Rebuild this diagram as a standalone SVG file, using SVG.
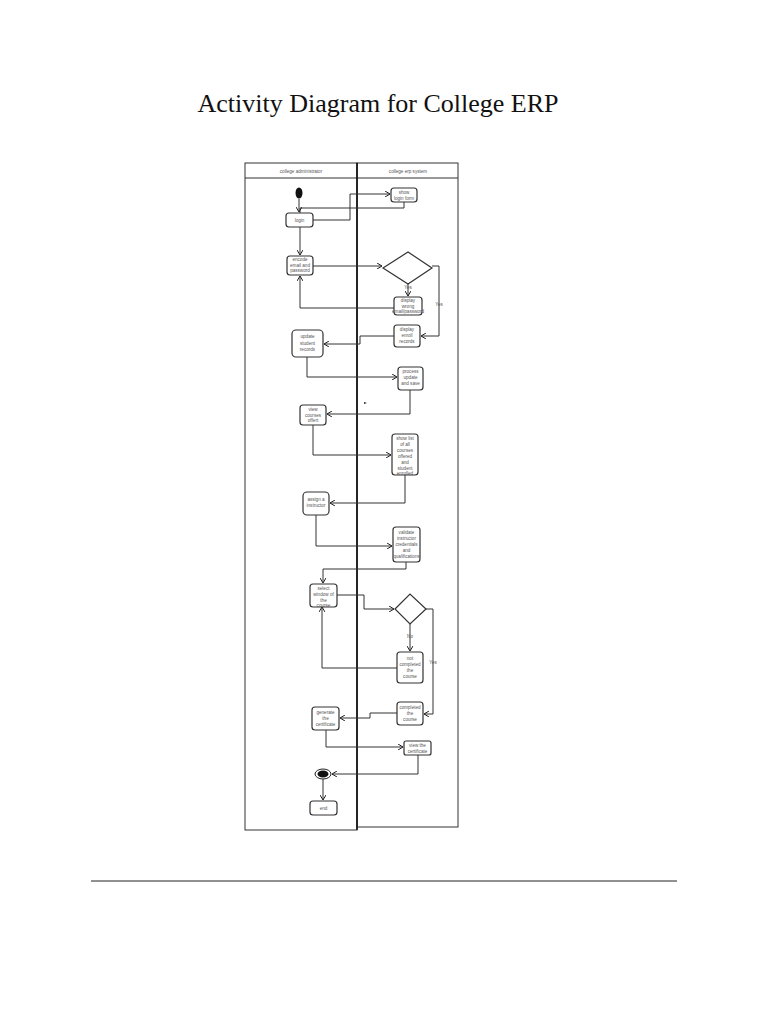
<svg xmlns="http://www.w3.org/2000/svg" width="768" height="1024" viewBox="0 0 768 1024">
<defs>
<marker id="a" markerWidth="6" markerHeight="6" refX="5" refY="3" orient="auto"><path d="M0,0 L5,3 L0,6" fill="none" stroke="#222" stroke-width="1"/></marker>
<style>
.n{fill:#fff;stroke:#333;stroke-width:1.2}
.t{font-family:"Liberation Sans",Arial,sans-serif;font-size:4.6px;fill:#555;text-anchor:middle}
.c path{fill:none;stroke:#333;stroke-width:1;marker-end:url(#a)}
.l{fill:none;stroke:#333;stroke-width:1}
</style>
</defs>
<rect width="768" height="1024" fill="#fff"/>
<text x="378" y="112" font-family="Liberation Serif,serif" font-size="26" text-anchor="middle" fill="#111">Activity Diagram for College ERP</text>
<line x1="91" y1="881" x2="677" y2="881" stroke="#222" stroke-width="1"/>
<g id="lanes">
<rect x="245" y="163" width="112" height="667" class="l"/>
<rect x="357" y="163" width="101" height="664" class="l"/>
<line x1="245" y1="178" x2="458" y2="178" stroke="#333" stroke-width="1.2"/>
<line x1="357" y1="163" x2="357" y2="830" stroke="#111" stroke-width="1.5"/>
<text class="t" x="301" y="173">college administrator</text>
<text class="t" x="408" y="173">college erp system</text>
</g>
<g class="c" id="connectors">
<path d="M299,199 V212"/>
<path d="M313,220 H350 V194 H390"/>
<path d="M404,202 V208 H300 V255"/>
<path d="M313,266 H382"/>
<path d="M408,284 V296"/>
<path d="M394,308 H300 V276"/>
<path d="M432,266 H439 V336 H421"/>
<path d="M394,336 H360 V344 H324"/>
<path d="M307,357 V377 H397"/>
<path d="M410,390 V414 H327"/>
<path d="M313,425 V455 H391"/>
<path d="M405,475 V503 H330"/>
<path d="M316,515 V546 H392"/>
<path d="M406,562 V569 H323 V583"/>
<path d="M337,595 H364 V609 H394"/>
<path d="M410,624 V651"/>
<path d="M397,668 H322 V607"/>
<path d="M426,609 H433 V714 H424"/>
<path d="M397,713 H370 V718 H340"/>
<path d="M326,730 V747 H403"/>
<path d="M418,755 V774 H332"/>
<path d="M323,779 V800"/>
</g>
<path d="M364,402 l3,1 -3,1z" fill="#222"/>
<text class="t" x="408" y="289">Yes</text>
<text class="t" x="439" y="306">Yes</text>
<text class="t" x="410" y="638">No</text>
<text class="t" x="433" y="664">Yes</text>
<g id="start"><ellipse cx="299" cy="193" rx="3.5" ry="5.5" fill="#111"/></g>
<g id="login"><rect class="n" x="286" y="213" width="27" height="14" rx="3"/><text class="t" x="299.5" y="221.5">login</text></g>
<g id="show"><rect class="n" x="391" y="188" width="26" height="14" rx="3"/><text class="t" x="404" y="194">show</text><text class="t" x="404" y="199.5">login form</text></g>
<g id="enter"><rect class="n" x="287" y="256" width="26" height="19" rx="3"/><text class="t" x="300" y="261">encode</text><text class="t" x="300" y="266.5">email and</text><text class="t" x="300" y="272">password</text></g>
<g id="d1"><polygon class="n" points="383,268 408,252 432,268 408,284"/></g>
<g id="wrong"><rect class="n" x="394" y="297" width="28" height="18" rx="3"/><text class="t" x="408" y="302">display</text><text class="t" x="408" y="307.5">wrong</text><text class="t" x="408" y="313">email/password</text></g>
<g id="enroll"><rect class="n" x="394" y="325" width="26" height="22" rx="3"/><text class="t" x="407" y="331">display</text><text class="t" x="407" y="337">enroll</text><text class="t" x="407" y="343">records</text></g>
<g id="update"><rect class="n" x="292" y="330" width="31" height="27" rx="4"/><text class="t" x="307.5" y="338">update</text><text class="t" x="307.5" y="344.5">student</text><text class="t" x="307.5" y="351">records</text></g>
<g id="process"><rect class="n" x="398" y="367" width="25" height="23" rx="3"/><text class="t" x="410.5" y="373">process</text><text class="t" x="410.5" y="379">update</text><text class="t" x="410.5" y="385">and save</text></g>
<g id="view"><rect class="n" x="300" y="405" width="26" height="20" rx="3"/><text class="t" x="313" y="411">view</text><text class="t" x="313" y="416.5">courses</text><text class="t" x="313" y="422">offert</text></g>
<g id="list"><rect class="n" x="392" y="434" width="26" height="41" rx="3"/><text class="t" x="405" y="440">show list</text><text class="t" x="405" y="446">of all</text><text class="t" x="405" y="452">courses</text><text class="t" x="405" y="458">offered</text><text class="t" x="405" y="464">and</text><text class="t" x="405" y="470">student</text><text class="t" x="405" y="475">enrolled</text></g>
<g id="assign"><rect class="n" x="303" y="492" width="26" height="23" rx="4"/><text class="t" x="316" y="501">assign a</text><text class="t" x="316" y="507">instructor</text></g>
<g id="validate"><rect class="n" x="393" y="527" width="27" height="35" rx="3"/><text class="t" x="406.5" y="534">validate</text><text class="t" x="406.5" y="540">instructor</text><text class="t" x="406.5" y="546">credentials</text><text class="t" x="406.5" y="552">and</text><text class="t" x="406.5" y="558">qualifications</text></g>
<g id="select"><rect class="n" x="310" y="584" width="27" height="23" rx="3"/><text class="t" x="323.5" y="590">select</text><text class="t" x="323.5" y="596">window of</text><text class="t" x="323.5" y="602">the</text><text class="t" x="323.5" y="607">course</text></g>
<g id="d2"><polygon class="n" points="395,609 410,594 426,609 410,624"/></g>
<g id="notdone"><rect class="n" x="397" y="652" width="26" height="31" rx="3"/><text class="t" x="410" y="660">not</text><text class="t" x="410" y="666">completed</text><text class="t" x="410" y="672">the</text><text class="t" x="410" y="678">course</text></g>
<g id="done"><rect class="n" x="397" y="702" width="26" height="23" rx="3"/><text class="t" x="410" y="709">completed</text><text class="t" x="410" y="715">the</text><text class="t" x="410" y="721">course</text></g>
<g id="gen"><rect class="n" x="312" y="707" width="27" height="23" rx="3"/><text class="t" x="325.5" y="714">generate</text><text class="t" x="325.5" y="720">the</text><text class="t" x="325.5" y="726">certificate</text></g>
<g id="viewcert"><rect class="n" x="404" y="741" width="27" height="14" rx="2"/><text class="t" x="417.5" y="747">view the</text><text class="t" x="417.5" y="752.5">certificate</text></g>
<g id="final"><ellipse cx="323" cy="774" rx="8" ry="5" fill="#fff" stroke="#222"/><ellipse cx="323" cy="774" rx="5.5" ry="3.5" fill="#111"/></g>
<g id="end"><rect class="n" x="310" y="801" width="27" height="14" rx="3"/><text class="t" x="323.5" y="809.5">end</text></g>
</svg>
